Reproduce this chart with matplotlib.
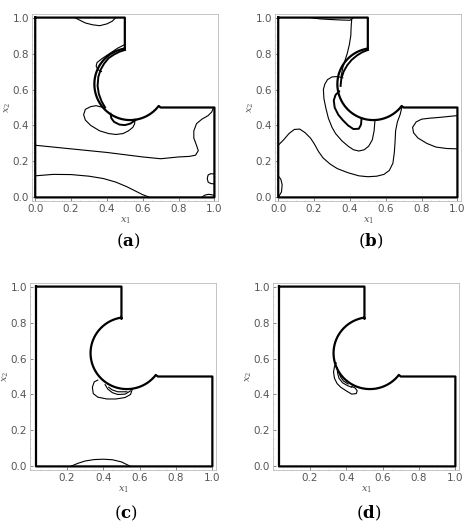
import numpy as np
import matplotlib.pyplot as plt

plt.rcParams['mathtext.fontset'] = 'dejavuserif'

# domain geometry
cx, cy, r = 0.53, 0.63, 0.2

# contour polylines, per panel
curves_a = [
    [(0.22, 1.0), (0.25, 0.985), (0.28, 0.97), (0.32, 0.96), (0.36, 0.955), (0.40, 0.965), (0.43, 0.98), (0.45, 1.0)],
    [(0.5, 0.85), (0.46, 0.83), (0.43, 0.81), (0.40, 0.79), (0.37, 0.77), (0.345, 0.75), (0.34, 0.73), (0.35, 0.71), (0.37, 0.70)],
    [(0.38, 0.50), (0.34, 0.51), (0.31, 0.505), (0.28, 0.49), (0.27, 0.46), (0.28, 0.43), (0.31, 0.40),
     (0.36, 0.37), (0.41, 0.355), (0.45, 0.35), (0.49, 0.355), (0.52, 0.37), (0.545, 0.39), (0.555, 0.41), (0.555, 0.435)],
    [(0.0, 0.29), (0.2, 0.27), (0.4, 0.25), (0.6, 0.225), (0.7, 0.215), (0.8, 0.225),
     (0.86, 0.228), (0.895, 0.235), (0.91, 0.26), (0.9, 0.29), (0.885, 0.33), (0.885, 0.37), (0.9, 0.41), (0.93, 0.435), (0.965, 0.455), (0.985, 0.475), (0.995, 0.5)],
    [(0.0, 0.12), (0.1, 0.128), (0.2, 0.127), (0.3, 0.118), (0.38, 0.105), (0.45, 0.085), (0.51, 0.06), (0.56, 0.035), (0.6, 0.015), (0.64, 0.0)],
    [(1.0, 0.13), (0.98, 0.132), (0.965, 0.125), (0.96, 0.105), (0.965, 0.085), (0.98, 0.077), (1.0, 0.075)],
    [(0.93, 0.0), (0.945, 0.012), (0.965, 0.017), (0.985, 0.015), (1.0, 0.01)],
]
thick_a = [
    [(0.5, 0.82), (0.47, 0.81), (0.44, 0.795), (0.41, 0.775), (0.385, 0.745), (0.365, 0.71), (0.352, 0.67),
     (0.348, 0.62), (0.355, 0.575), (0.37, 0.535), (0.39, 0.50)],
    [(0.42, 0.465), (0.425, 0.44), (0.44, 0.42), (0.47, 0.405), (0.5, 0.402), (0.53, 0.41), (0.56, 0.43)],
]
curves_b = [
    [(0.18, 1.0), (0.23, 0.993), (0.28, 0.99), (0.34, 0.987), (0.4, 0.985), (0.42, 1.0)],
    [(0.41, 0.99), (0.407, 0.95), (0.405, 0.9), (0.397, 0.85), (0.385, 0.8), (0.372, 0.76), (0.36, 0.72), (0.35, 0.67)],
    [(0.36, 0.665), (0.33, 0.672), (0.3, 0.67), (0.275, 0.655), (0.26, 0.63), (0.252, 0.6), (0.255, 0.55),
     (0.265, 0.5), (0.28, 0.44), (0.3, 0.39), (0.32, 0.355), (0.355, 0.315), (0.39, 0.285), (0.42, 0.265),
     (0.45, 0.258), (0.48, 0.265), (0.505, 0.285), (0.525, 0.32), (0.535, 0.37), (0.54, 0.43)],
    [(0.0, 0.29), (0.03, 0.32), (0.06, 0.355), (0.09, 0.378), (0.12, 0.38), (0.15, 0.36), (0.18, 0.33), (0.2, 0.3),
     (0.225, 0.255), (0.25, 0.22), (0.29, 0.185), (0.33, 0.16), (0.39, 0.137), (0.45, 0.12), (0.5, 0.115),
     (0.55, 0.118), (0.59, 0.128), (0.62, 0.15), (0.64, 0.19), (0.648, 0.25), (0.652, 0.31), (0.655, 0.37),
     (0.665, 0.42), (0.68, 0.46), (0.69, 0.5)],
    [(1.0, 0.455), (0.95, 0.45), (0.9, 0.445), (0.84, 0.44), (0.8, 0.435), (0.77, 0.42), (0.75, 0.39), (0.755, 0.36),
     (0.78, 0.33), (0.83, 0.3), (0.88, 0.28), (0.94, 0.272), (1.0, 0.27)],
    [(0.0, 0.12), (0.015, 0.1), (0.022, 0.07), (0.018, 0.03), (0.0, 0.0)],
]
thick_b = [
    [(0.5, 0.82), (0.47, 0.808), (0.44, 0.79), (0.41, 0.765), (0.385, 0.735), (0.365, 0.7), (0.352, 0.66), (0.348, 0.62)],
    [(0.34, 0.59), (0.32, 0.57), (0.31, 0.54), (0.315, 0.5), (0.335, 0.46), (0.36, 0.43), (0.39, 0.4),
     (0.42, 0.38), (0.45, 0.382), (0.462, 0.405), (0.465, 0.44)],
]
curves_c = [
    [(0.37, 0.48), (0.35, 0.47), (0.34, 0.44), (0.345, 0.405), (0.37, 0.385), (0.42, 0.375), (0.47, 0.375),
     (0.52, 0.383), (0.55, 0.4), (0.56, 0.43)],
    [(0.41, 0.455), (0.425, 0.43), (0.45, 0.41), (0.48, 0.4), (0.52, 0.402), (0.55, 0.42)],
    [(0.43, 0.44), (0.45, 0.425), (0.48, 0.415), (0.53, 0.415)],
    [(0.22, 0.0), (0.26, 0.017), (0.3, 0.03), (0.35, 0.038), (0.4, 0.04), (0.45, 0.037), (0.5, 0.025), (0.55, 0.0)],
]
curves_d = [
    [(0.345, 0.575), (0.335, 0.555), (0.33, 0.525), (0.335, 0.49), (0.35, 0.46), (0.37, 0.44), (0.4, 0.42),
     (0.43, 0.402), (0.455, 0.405), (0.46, 0.42), (0.45, 0.435), (0.43, 0.445)],
    [(0.35, 0.55), (0.352, 0.52), (0.36, 0.49), (0.38, 0.465), (0.405, 0.45), (0.43, 0.44)],
    [(0.36, 0.52), (0.37, 0.495), (0.385, 0.475), (0.41, 0.458)],
]
xticks_top = [0.0, 0.2, 0.4, 0.6, 0.8, 1.0]
xticks_bottom = [0.2, 0.4, 0.6, 0.8, 1.0]
yticks = [0.0, 0.2, 0.4, 0.6, 0.8, 1.0]


def boundary(x0):
    t0 = np.arctan2(0.82 - cy, 0.5 - cx)
    t1 = np.arctan2(0.5 - cy, 0.7 - cx) + 2 * np.pi
    t = np.linspace(t0, t1, 200)
    xs = [x0, 0.5, 0.5] + list(cx + r * np.cos(t)) + [0.7, 1.0, 1.0, x0, x0]
    ys = [1.0, 1.0, 0.82] + list(cy + r * np.sin(t)) + [0.5, 0.5, 0.0, 0.0, 1.0]
    return xs, ys


fig = plt.figure(figsize=(4.74, 5.29), dpi=100)
panels = [
    ((35, 15), 0.0, curves_a, thick_a, xticks_top, 'a', 241),
    ((278, 15), 0.0, curves_b, thick_b, xticks_top, 'b', 241),
    ((33, 284), 0.03, curves_c, [], xticks_bottom, 'c', 513),
    ((276, 284), 0.03, curves_d, [], xticks_bottom, 'd', 513),
]
W, H = 474, 529
for (px, py), x0, curves, thick, xt, lab, ly in panels:
    w, h = 186, 187
    ax = fig.add_axes([(px - 3) / W, 1 - (py + 186) / H, w / W, h / H])
    ax.set_xlim(-0.018 + x0 * 0.5, 1.02)
    ax.set_ylim(-0.02, 1.02)
    xs, ys = boundary(x0)
    ax.plot(xs, ys, color='black', lw=1.6)
    for c in curves:
        c = np.array(c)
        ax.plot(c[:, 0], c[:, 1], color='black', lw=0.8)
    for c in thick:
        c = np.array(c)
        ax.plot(c[:, 0], c[:, 1], color='black', lw=1.4)
    ax.set_xticks(xt)
    ax.set_yticks(yticks)
    ax.set_xticklabels(['%.1f' % v for v in xt])
    ax.set_yticklabels(['%.1f' % v for v in yticks])
    ax.tick_params(labelsize=7.5, colors='#555555', length=2, width=0.5, direction='in', pad=2)
    ax.minorticks_on()
    ax.tick_params(which='minor', length=1, width=0.4, colors='#bbbbbb', direction='in')
    for s in ax.spines.values():
        s.set_color('#bbbbbb')
        s.set_linewidth(0.6)
    ax.set_xlabel('$x_1$', fontsize=7, color='#555555', labelpad=1)
    ax.set_ylabel('$x_2$', fontsize=7, color='#555555', labelpad=0)
    fig.text((px + 93) / W, 1 - ly / H, '($\\mathbf{%s}$)' % lab, ha='center', va='center',
             fontsize=12, family='DejaVu Serif')

fig.savefig('out.png', dpi=100)
